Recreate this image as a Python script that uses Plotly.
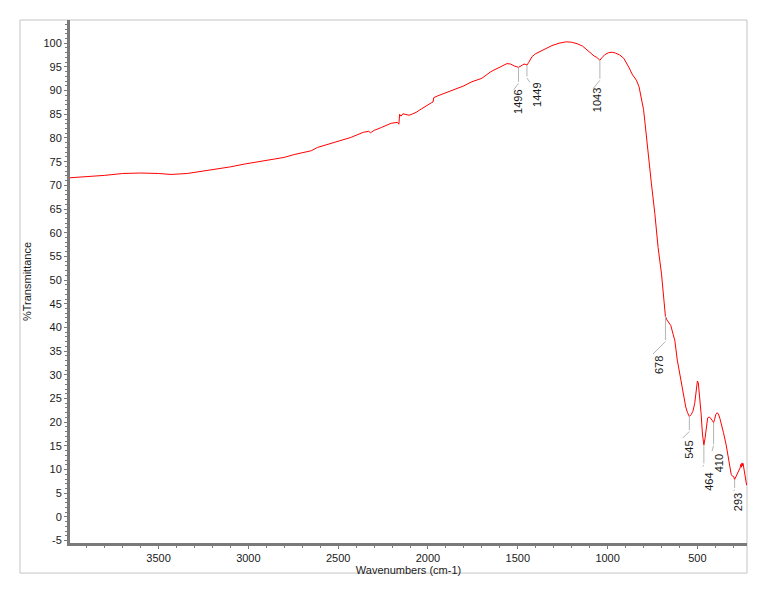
import plotly.graph_objects as go

# spectrum (wavenumber cm-1, %T)
wavenumber = [
    3993, 3900, 3800, 3700, 3600, 3500, 3430, 3340, 3210, 3100,
    3020, 2940, 2860, 2800, 2745, 2690, 2650, 2615, 2540, 2500,
    2430, 2360, 2330, 2320, 2300, 2260, 2205, 2170, 2162, 2158,
    2150, 2140, 2125, 2105, 2085, 2066, 2038, 2000, 1982, 1972,
    1968, 1945, 1890, 1800, 1760, 1700, 1650, 1600, 1560, 1540,
    1520, 1496, 1480, 1465, 1455, 1449, 1440, 1420, 1400, 1380,
    1340, 1310, 1270, 1230, 1200, 1170, 1140, 1110, 1090, 1075,
    1060, 1043, 1030, 1015, 995, 975, 955, 932, 910, 895,
    880, 864, 850, 840, 825, 812, 800, 793, 775, 756,
    737, 719, 700, 690, 685, 678, 670, 660, 648, 635,
    626, 612, 600, 593, 580, 565, 555, 545, 535, 525,
    515, 505, 500, 495, 488, 480, 472, 464, 458, 450,
    443, 435, 425, 415, 410, 405, 398, 390, 383, 375,
    366, 355, 340, 330, 320, 312, 305, 298, 293, 288,
    280, 272, 268, 262, 258, 255, 252, 249, 246, 242,
    237, 232, 226,
]
transmittance = [
    71.6, 71.8, 72.1, 72.5, 72.6, 72.5, 72.3, 72.5, 73.2, 73.9,
    74.5, 75.0, 75.4, 75.9, 76.5, 77.0, 77.3, 78.0, 78.9, 79.4,
    80.1, 81.2, 81.4, 81.1, 81.6, 82.2, 83.1, 83.3, 82.9, 85.0,
    84.6, 85.1, 85.0, 84.8, 85.1, 85.4, 86.1, 87.1, 87.4, 87.6,
    88.5, 88.9, 89.7, 91.0, 91.8, 92.6, 94.0, 95.0, 95.7, 95.6,
    95.2, 94.9, 95.3, 95.6, 95.5, 95.4, 95.9, 97.2, 97.8, 98.2,
    98.9, 99.5, 100.0, 100.3, 100.2, 99.9, 99.4, 98.4, 97.7, 97.3,
    97.0, 96.4, 97.0, 97.6, 98.0, 98.1, 97.9, 97.5, 96.8, 95.9,
    94.8, 93.5, 92.8, 92.2, 90.8, 88.5, 86.0, 83.6, 76.6, 70.3,
    64.0, 56.9, 51.3, 47.5, 45.5, 42.3, 41.6, 41.0, 40.4, 38.5,
    37.3, 33.1, 30.5, 28.9, 25.8, 23.2, 22.0, 21.2, 21.6, 22.3,
    24.0, 27.5, 28.7, 28.3, 26.0, 22.0, 17.5, 15.2, 16.5, 19.5,
    20.9, 21.1, 20.8, 20.2, 19.9, 20.5, 21.6, 22.0, 21.7, 20.8,
    19.6, 17.8, 15.2, 13.0, 10.5, 9.0, 8.6, 8.5, 7.9, 8.3,
    8.6, 9.3, 9.8, 10.4, 11.1, 10.5, 11.4, 10.8, 11.3, 10.3,
    8.8, 8.0, 6.7,
]

# labelled peaks
peak_wn = [1496, 1449, 1043, 678, 545, 464, 410, 293]
peak_t = [94.9, 95.4, 96.4, 42.3, 21.2, 15.2, 19.9, 7.9]
# leader geometry in pixels: vertical drop, diagonal dx/dy, text centre dx/dy
leader = [
    (16, -6, 8, 0, 35),
    (13, 4, 6, 10, 30),
    (20, -8, 10, -3, 40),
    (25, -14, 14, -7, 48),
    (15, -8, 8, -1, 33),
    (20, -2, 3, 5, 37),
    (23, -2, 7, 5, 41),
    (10, -2, 3, 3, 23),
]

y_ticks = list(range(-5, 101, 5))
y_ticktext = [str(v) for v in y_ticks]  # plain hyphen for -5

FONT = 'Arial, Liberation Sans, sans-serif'
AXIS = '#7a7a7a'
LEAD = '#b4b4b4'

fig = go.Figure()
fig.add_trace(go.Scatter(
    x=wavenumber, y=transmittance,
    mode='lines', line=dict(color='#ff0000', width=1),
    showlegend=False, hoverinfo='skip',
))

for wn, t, (drop, ddx, ddy, tdx, tdy) in zip(peak_wn, peak_t, leader):
    # vertical part
    fig.add_annotation(x=wn, y=t, text='', showarrow=True, arrowhead=0,
                       arrowwidth=1, arrowcolor=LEAD, ax=0, ay=drop,
                       standoff=0, startstandoff=0)
    # diagonal part
    fig.add_annotation(x=wn, y=t, yshift=-drop, text='', showarrow=True,
                       arrowhead=0, arrowwidth=1, arrowcolor=LEAD,
                       ax=ddx, ay=ddy, standoff=0, startstandoff=0)
    fig.add_annotation(x=wn, y=t, xshift=tdx, yshift=-tdy, text=str(wn),
                       showarrow=False, textangle=-90,
                       font=dict(size=11, color='#1a1a1a', family=FONT))

# light frame round the whole chart
fig.add_shape(type='rect', xref='paper', yref='paper',
              x0=-0.0739, x1=1.0, y0=-0.0575, y1=1.0,
              line=dict(color='#c4c4c4', width=1), layer='below')

# page has an 8px body margin, so the figure is drawn 8px smaller
fig.update_layout(
    width=760, height=585,
    margin=dict(l=62, r=21, t=12, b=50),
    paper_bgcolor='white', plot_bgcolor='white',
    font=dict(family=FONT, size=11, color='#1a1a1a'),
)
fig.update_xaxes(
    range=[3993, 224], tick0=0, dtick=500,
    showline=True, linecolor=AXIS, linewidth=3,
    ticks='outside', ticklen=3, tickcolor=AXIS, tickwidth=1,
    minor=dict(dtick=100, ticks='outside', ticklen=2, tickcolor=AXIS),
    showgrid=False, zeroline=False,
    title=dict(text='Wavenumbers (cm-1)', standoff=0, font=dict(size=11)),
)
fig.update_yaxes(
    range=[-5.5, 104.9], tickvals=y_ticks, ticktext=y_ticktext,
    showline=True, linecolor=AXIS, linewidth=3,
    ticks='outside', ticklen=3, tickcolor=AXIS, tickwidth=1,
    minor=dict(dtick=1, ticks='outside', ticklen=2, tickcolor=AXIS),
    showgrid=False, zeroline=False,
    title=dict(text='%Transmittance', standoff=10, font=dict(size=11)),
)

fig.write_html('out.html')
